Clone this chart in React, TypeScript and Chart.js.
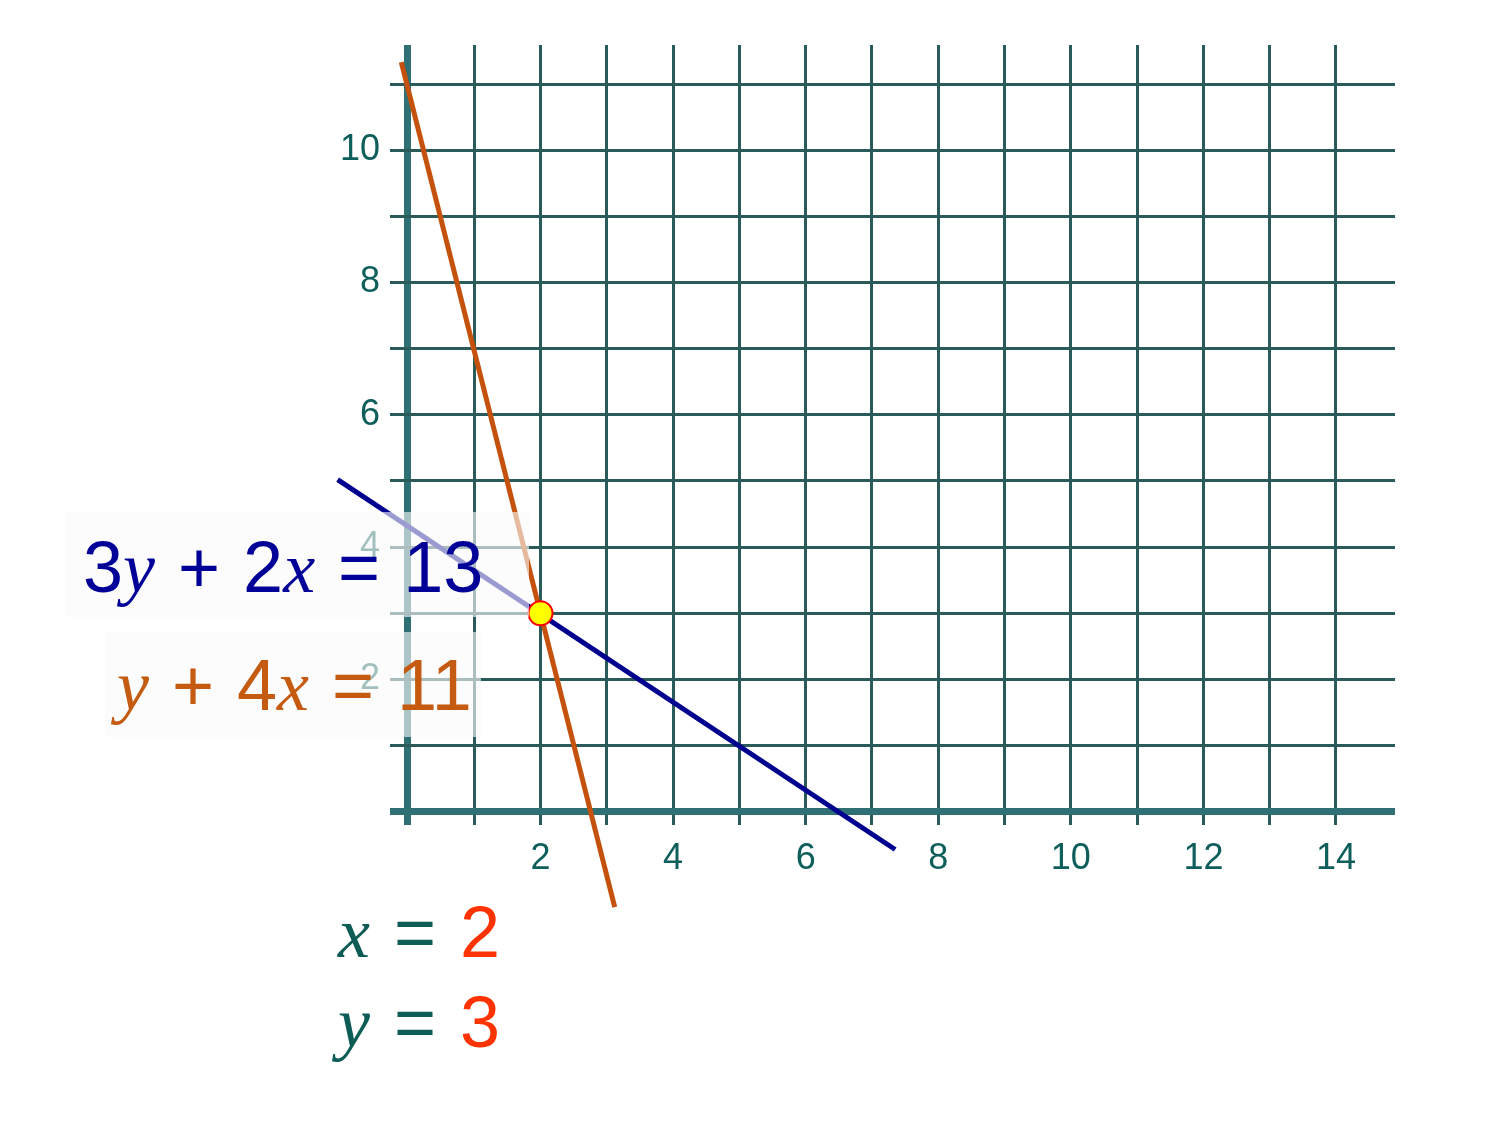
import React, { useEffect, useRef } from "react";
import Chart from "chart.js/auto";

// line 3y + 2x = 13 at its two ends
const blueLineX = [-1.06, 7.35];
const blueLineY = [5.02, -0.57];
// line y + 4x = 11
const orangeLineX = [-0.1, 3.12];
const orangeLineY = [11.33, -1.44];
// the solution point
const solutionX = [2];
const solutionY = [3];

const xTickLabels = [2, 4, 6, 8, 10, 12, 14];
const yTickLabels = [2, 4, 6, 8, 10];

const TEAL = "#0e5f5b";
const SANS = '"Liberation Sans", Arial, sans-serif';
const SERIF = '"Liberation Serif", "Times New Roman", serif';

const toPoints = (xs: number[], ys: number[]) => xs.map((x, i) => ({ x, y: ys[i] }));

const V: React.FC<{ children: React.ReactNode }> = ({ children }) => (
	<span style={{ fontFamily: SERIF, fontStyle: "italic" }}>{children}</span>
);

const App: React.FC = () => {
	const chartRef = useRef<HTMLCanvasElement>(null);
	const chartInstance = useRef<Chart>();

	useEffect(() => {
		if (!chartRef.current) return;
		const ctx = chartRef.current.getContext("2d");
		if (!ctx) return;

		const gridColor = (c: any) => (c.tick && c.tick.value === 0 ? "#2f7074" : "#2a5a5a");
		const gridWidth = (c: any) => (c.tick && c.tick.value === 0 ? 7 : 3);

		chartInstance.current = new Chart(ctx, {
			type: "scatter",
			data: {
				datasets: [
					{
						label: "solution",
						data: toPoints(solutionX, solutionY),
						pointRadius: 12,
						pointBackgroundColor: "#ffff00",
						pointBorderColor: "#ff0000",
						pointBorderWidth: 2,
						order: 0,
					},
					{
						label: "3y + 2x = 13",
						data: toPoints(blueLineX, blueLineY),
						showLine: true,
						borderColor: "#00008f",
						borderWidth: 5,
						pointRadius: 0,
						clip: false,
						order: 1,
					},
					{
						label: "y + 4x = 11",
						data: toPoints(orangeLineX, orangeLineY),
						showLine: true,
						borderColor: "#c4520c",
						borderWidth: 5,
						pointRadius: 0,
						clip: false,
						order: 2,
					},
				],
			},
			options: {
				responsive: false,
				animation: false,
				layout: { padding: { left: 290, right: 105, top: 45, bottom: 240 } },
				plugins: { legend: { display: false }, tooltip: { enabled: false } },
				scales: {
					x: {
						type: "linear",
						min: -0.27,
						max: 14.89,
						afterFit: (scale: any) => {
							scale.height = 60;
						},
						border: { display: false },
						grid: { color: gridColor, lineWidth: gridWidth, drawTicks: false },
						ticks: {
							stepSize: 1,
							includeBounds: false,
							autoSkip: false,
							maxRotation: 0,
							padding: 12,
							color: TEAL,
							font: { family: SANS, size: 36 },
							callback: (v: any) => (xTickLabels.includes(Number(v)) ? String(v) : ""),
						},
					},
					y: {
						type: "linear",
						min: -0.2,
						max: 11.59,
						afterFit: (scale: any) => {
							scale.width = 100;
						},
						border: { display: false },
						grid: { color: gridColor, lineWidth: gridWidth, drawTicks: false },
						ticks: {
							stepSize: 1,
							includeBounds: false,
							autoSkip: false,
							padding: 10,
							color: TEAL,
							font: { family: SANS, size: 36 },
							callback: (v: any) => (yTickLabels.includes(Number(v)) ? String(v) : ""),
						},
					},
				},
			},
		});

		return () => {
			if (chartInstance.current) {
				chartInstance.current.destroy();
			}
		};
	}, []);

	const eqStyle: React.CSSProperties = {
		position: "absolute",
		fontFamily: SANS,
		fontSize: 72,
		lineHeight: "72px",
		whiteSpace: "pre",
		wordSpacing: 3,
	};

	return (
		<div style={{ position: "absolute", left: 0, top: 0, width: 1500, height: 1125, background: "#fff" }}>
			<canvas ref={chartRef} width={1500} height={1125} style={{ position: "absolute", left: 0, top: 0, width: 1500, height: 1125 }} />
			<div style={{ position: "absolute", left: 65, top: 512, width: 464, height: 105, background: "rgba(250,250,250,0.62)" }} />
			<div style={{ position: "absolute", left: 105, top: 632, width: 376, height: 105, background: "rgba(250,250,250,0.62)" }} />
			<div style={{ ...eqStyle, left: 83, top: 531, color: "#000099" }}>
				3<V>y</V> + 2<V>x</V> = 13
			</div>
			<div style={{ ...eqStyle, left: 117, top: 649, color: "#c55a11" }}>
				<V>y</V> + 4<V>x</V> = 11
			</div>
			<div style={{ ...eqStyle, left: 338, top: 896, color: "#0d5c55", wordSpacing: 4 }}>
				<V>x</V> = <span style={{ color: "#ff3300" }}>2</span>
			</div>
			<div style={{ ...eqStyle, left: 338, top: 986, color: "#0d5c55", wordSpacing: 4 }}>
				<V>y</V> = <span style={{ color: "#ff3300" }}>3</span>
			</div>
		</div>
	);
};

export default App;
